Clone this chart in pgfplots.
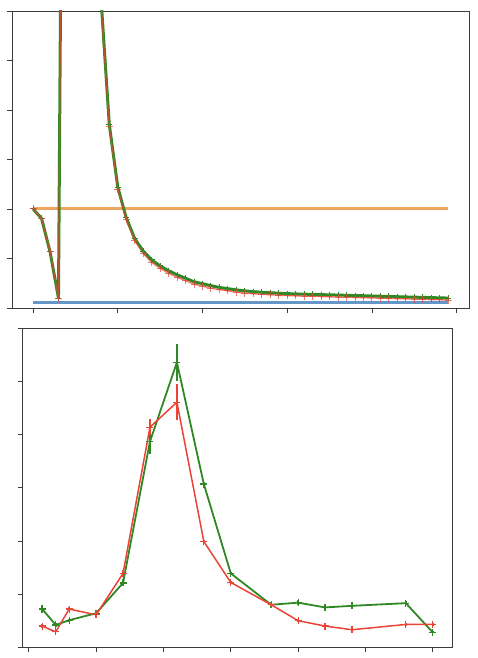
\documentclass[border=0pt]{standalone}
\usepackage{pgfplots}
\pgfplotsset{compat=1.18}
\definecolor{cred}{RGB}{234,68,54}
\definecolor{cgreen}{RGB}{48,136,36}
\definecolor{cblue}{RGB}{100,150,200}
\definecolor{corange}{RGB}{240,165,95}
\definecolor{frame}{RGB}{60,60,60}
\pgfplotstableread{
x y
0 2.00
1 1.81
2 1.14
3 0.20
4 25
5 18
6 12
7 8.5
8 6.2
9 3.66
10 2.40
11 1.78
12 1.36
13 1.10
14 0.92
15 0.80
16 0.70
17 0.62
18 0.55
19 0.48
20 0.44
21 0.40
22 0.37
23 0.345
24 0.32
25 0.30
26 0.288
27 0.276
28 0.266
29 0.257
30 0.250
31 0.244
32 0.239
33 0.235
34 0.230
35 0.225
36 0.221
37 0.216
38 0.211
39 0.207
40 0.202
41 0.197
42 0.193
43 0.188
44 0.183
45 0.179
46 0.174
47 0.169
48 0.165
49 0.160
}\redtop
\pgfplotstableread{
x y
0 2.00
1 1.81
2 1.14
3 0.20
4 25
5 18
6 12
7 8.5
8 6.3
9 3.70
10 2.44
11 1.82
12 1.40
13 1.15
14 0.97
15 0.85
16 0.75
17 0.67
18 0.60
19 0.53
20 0.49
21 0.45
22 0.415
23 0.39
24 0.365
25 0.345
26 0.33
27 0.318
28 0.308
29 0.298
30 0.290
31 0.284
32 0.279
33 0.275
34 0.270
35 0.265
36 0.261
37 0.256
38 0.251
39 0.247
40 0.242
41 0.237
42 0.233
43 0.228
44 0.223
45 0.219
46 0.214
47 0.209
48 0.205
49 0.200
}\greentop
\begin{document}
\begin{tikzpicture}[x=1pt,y=1pt]
\useasboundingbox (0,0) rectangle (478,658);
\begin{axis}[at={(12.3pt,350pt)}, anchor=south west, scale only axis,
  width=456.7pt, height=297pt,
  xmin=-2.45, xmax=51.45, ymin=0, ymax=6,
  xtick={0,10,...,50}, ytick={0,...,6},
  xticklabels={}, yticklabels={},
  tick align=outside, xtick pos=bottom, ytick pos=left,
  major tick length=5pt,
  axis line style={color=frame, line width=0.8pt},
  tick style={color=frame, line width=0.8pt}]
\addplot[cblue, line width=3pt, no marks] coordinates {(0,0.12) (49,0.12)};
\addplot[corange, line width=3pt, no marks] coordinates {(0,2.0) (49,2.0)};
\addplot[cgreen, line width=3pt, mark=+, mark size=3pt, mark options={line width=1pt}] table[x=x,y=y] {\greentop};
\addplot[cred, opacity=0.7, line width=1.3pt, mark=+, mark size=3.5pt, mark options={line width=1pt}] table[x=x,y=y] {\redtop};
\end{axis}
\begin{axis}[at={(22.7pt,10.7pt)}, anchor=south west, scale only axis,
  width=429.6pt, height=319pt,
  xmin=-0.45, xmax=31.45, ymin=0, ymax=6,
  xtick={0,5,...,30}, ytick={0,...,6},
  xticklabels={}, yticklabels={},
  tick align=outside, xtick pos=bottom, ytick pos=left,
  major tick length=5pt,
  axis line style={color=frame, line width=0.8pt},
  tick style={color=frame, line width=0.8pt}]
\addplot[cgreen, line width=1.8pt, mark=+, mark size=3.5pt, mark options={line width=1.2pt},
  error bars/.cd, y dir=both, y explicit, error mark=none,
  error bar style={cgreen, line width=1.8pt}]
 coordinates {
 (1,0.72) +- (0,0.08)
 (2,0.42) +- (0,0.03)
 (3,0.51) +- (0,0.03)
 (5,0.64) +- (0,0.05)
 (7,1.21) +- (0,0.04)
 (9,3.87) +- (0,0.23)
 (11,5.36) +- (0,0.35)
 (13,3.07) +- (0,0.03)
 (15,1.39) +- (0,0.03)
 (18,0.80) +- (0,0.06)
 (20,0.84) +- (0,0.05)
 (22,0.75) +- (0,0.04)
 (24,0.78) +- (0,0.02)
 (28,0.83) +- (0,0.04)
 (30,0.28) +- (0,0.02)
 };
\addplot[cred, line width=1.5pt, mark=+, mark size=3.5pt, mark options={line width=1.2pt},
  error bars/.cd, y dir=both, y explicit, error mark=none,
  error bar style={cred, line width=1.5pt}]
 coordinates {
 (1,0.40) +- (0,0.04)
 (2,0.29) +- (0,0.04)
 (3,0.72) +- (0,0.04)
 (5,0.61) +- (0,0.04)
 (7,1.39) +- (0,0.05)
 (9,4.14) +- (0,0.15)
 (11,4.61) +- (0,0.34)
 (13,1.99) +- (0,0.03)
 (15,1.22) +- (0,0.03)
 (18,0.80) +- (0,0.03)
 (20,0.50) +- (0,0.03)
 (22,0.40) +- (0,0.02)
 (24,0.33) +- (0,0.02)
 (28,0.43) +- (0,0.02)
 (30,0.43) +- (0,0.02)
 };
\end{axis}
\end{tikzpicture}
\end{document}
